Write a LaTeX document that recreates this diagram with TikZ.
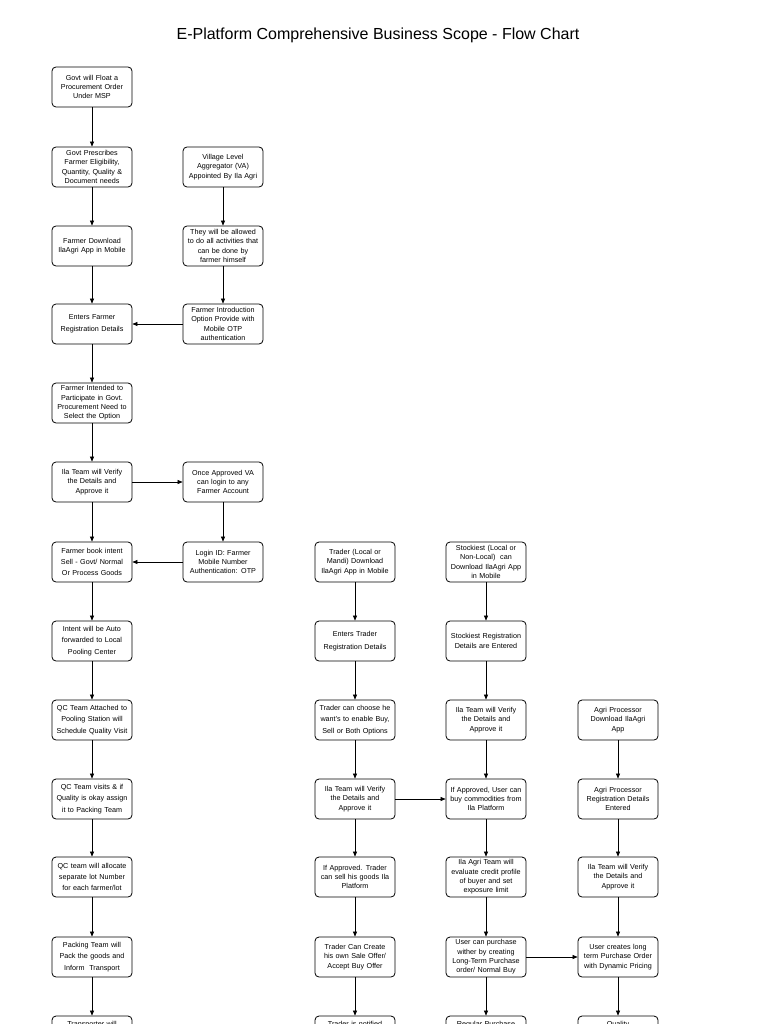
\documentclass[tikz,border=0pt]{standalone}
\usepackage{fontspec}
\setmainfont{Liberation Sans}
\usetikzlibrary{arrows.meta}
\begin{document}
\begin{tikzpicture}[x=1pt,y=-1pt,
 box/.style={draw,thick,rounded corners=4pt,minimum width=78pt,minimum height=40pt,text width=80pt,inner sep=0pt,align=center,font=\fontsize{7.2}{9.3}\selectfont},
 arr/.style={-{Triangle[length=5pt,width=4pt]},semithick}]
\useasboundingbox (0,0) rectangle (768,1024);
\clip (0,0) rectangle (768,1024);
\node[font=\fontsize{16}{18}\selectfont] (title) at (378,35) {E-Platform Comprehensive Business Scope - Flow Chart};
% column 1
\node[box] (a1) at (92,87) {Govt will Float a\\Procurement Order\\Under MSP};
\node[box] (a2) at (92,167) {Govt Prescribes\\Farmer Eligibility,\\Quantity, Quality \&\\Document needs};
\node[box] (a3) at (92,246) {Farmer Download\\IlaAgri App in Mobile};
\node[box] (a4) at (92,324) {Enters Farmer\\[3pt]Registration Details};
\node[box] (a5) at (92,403) {Farmer Intended to\\Participate in Govt.\\Procurement Need to\\Select the Option};
\node[box] (a6) at (92,482) {Ila Team will Verify\\the Details and\\Approve it};
\node[box] (a7) at (92,562) {Farmer book intent\\[2pt]Sell - Govt/ Normal\\[2pt]Or Process Goods};
\node[box] (a8) at (92,641) {Intent will be Auto\\[2pt]forwarded to Local\\[2pt]Pooling Center};
\node[box] (a9) at (92,720) {QC Team Attached to\\[2pt]Pooling Station will\\[2pt]Schedule Quality Visit};
\node[box] (a10) at (92,799) {QC Team visits \& if\\[2pt]Quality is okay assign\\[2pt]it to Packing Team};
\node[box] (a11) at (92,877) {QC team will allocate\\[2pt]separate lot Number\\[2pt]for each farmer/lot};
\node[box] (a12) at (92,957) {Packing Team will\\[2pt]Pack the goods and\\[2pt]Inform\ \ Transport};
\node[box,text depth=25pt] (a13) at (92,1036) {Transporter will};
% column 2
\node[box] (b1) at (223,167) {Village Level\\Aggregator (VA)\\Appointed By Ila Agri};
\node[box] (b2) at (223,246) {They will be allowed\\to do all activities that\\can be done by\\farmer himself};
\node[box] (b3) at (223,324) {Farmer Introduction\\Option Provide with\\Mobile OTP\\authentication};
\node[box] (b4) at (223,482) {Once Approved VA\\can login to any\\Farmer Account};
\node[box] (b5) at (223,562) {Login ID: Farmer\\Mobile Number\\Authentication: OTP};
% column 3
\node[box] (c1) at (355,562) {Trader (Local or\\Mandi) Download\\IlaAgri App in Mobile};
\node[box] (c2) at (355,641) {Enters Trader\\[3pt]Registration Details};
\node[box] (c3) at (355,720) {Trader can choose he\\[2pt]want's to enable Buy,\\[2pt]Sell or Both Options};
\node[box] (c4) at (355,799) {Ila Team will Verify\\the Details and\\Approve it};
\node[box] (c5) at (355,877) {If Approved. Trader\\can sell his goods Ila\\Platform};
\node[box] (c6) at (355,957) {Trader Can Create\\his own Sale Offer/\\Accept Buy Offer};
\node[box,text depth=25pt] (c7) at (355,1036) {Trader is notified};
% column 4
\node[box] (d1) at (486,562) {Stockiest (Local or\\Non-Local)\ \ can\\Download IlaAgri App\\in Mobile};
\node[box] (d2) at (486,641) {Stockiest Registration\\Details are Entered};
\node[box] (d3) at (486,720) {Ila Team will Verify\\the Details and\\Approve it};
\node[box] (d4) at (486,799) {If Approved, User can\\buy commodities from\\Ila Platform};
\node[box] (d5) at (486,877) {Ila Agri Team will\\evaluate credit profile\\of buyer and set\\exposure limit};
\node[box] (d6) at (486,957) {User can purchase\\wither by creating\\Long-Term Purchase\\order/ Normal Buy};
\node[box,text depth=25pt] (d7) at (486,1036) {Regular Purchase};
% column 5
\node[box] (e1) at (618,720) {Agri Processor\\Download IlaAgri\\App};
\node[box] (e2) at (618,799) {Agri Processor\\Registration Details\\Entered};
\node[box] (e3) at (618,877) {Ila Team will Verify\\the Details and\\Approve it};
\node[box] (e4) at (618,957) {User creates long\\term Purchase Order\\with Dynamic Pricing};
\node[box,text depth=25pt] (e5) at (618,1036) {Quality};
% arrows
\foreach \p/\q in {a1/a2,a2/a3,a3/a4,a4/a5,a5/a6,a6/a7,a7/a8,a8/a9,a9/a10,a10/a11,a11/a12,a12/a13,
 b1/b2,b2/b3,b4/b5,c1/c2,c2/c3,c3/c4,c4/c5,c5/c6,c6/c7,d1/d2,d2/d3,d3/d4,d4/d5,d5/d6,d6/d7,e1/e2,e2/e3,e3/e4,e4/e5}
 \draw[arr] (\p) -- (\q);
\draw[arr] (b3) -- (a4);
\draw[arr] (a6) -- (b4);
\draw[arr] (b5) -- (a7);
\draw[arr] (c4) -- (d4);
\draw[arr] (d6) -- (e4);
\end{tikzpicture}
\end{document}
